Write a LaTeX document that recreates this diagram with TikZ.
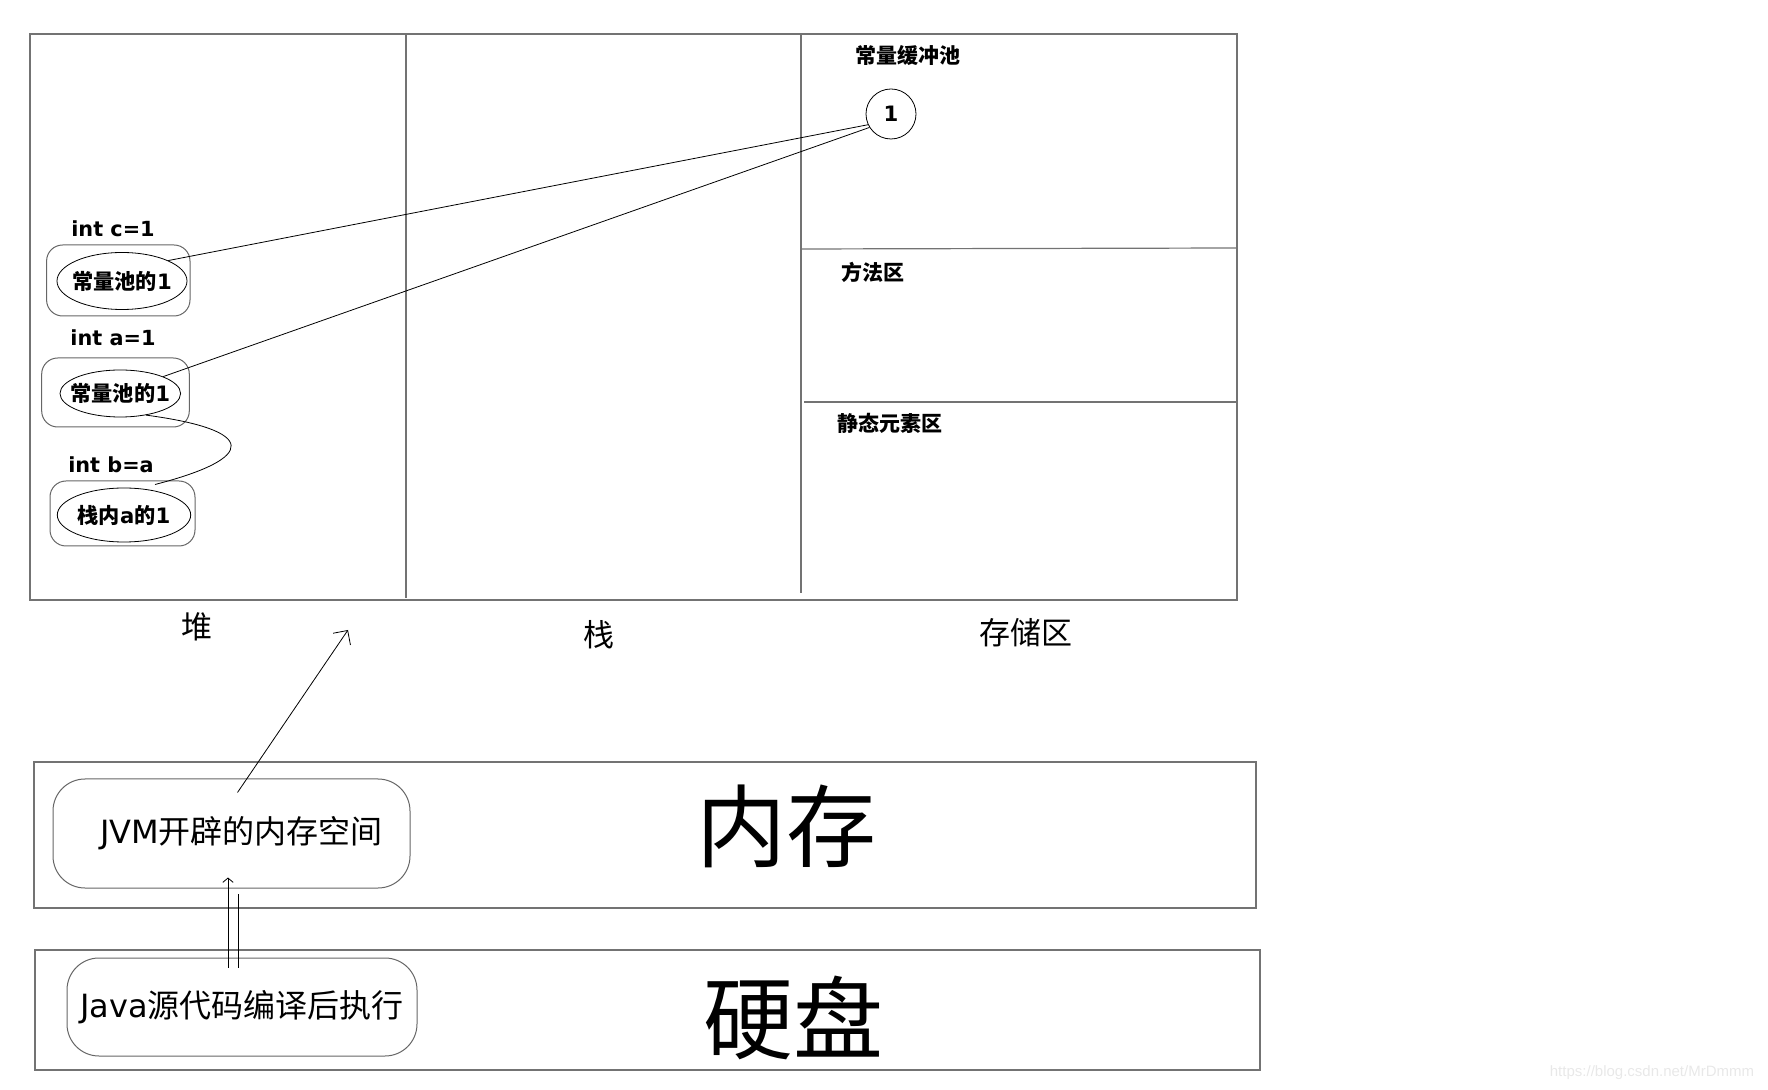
\documentclass[tikz,border=0pt]{standalone}
\usepackage{fontspec}
\setmainfont{DejaVu Sans}
\newfontfamily\cjk{Noto Sans CJK SC}
\newfontfamily\wmfont{Liberation Sans}
\usetikzlibrary{arrows.meta,calc,shapes.geometric}

\tikzset{
	frame/.style={draw=black!55, line width=0.6pt},
	slot/.style={draw=black!60, line width=0.5pt, rounded corners=8pt, inner sep=0pt},
	val/.style={draw, ellipse, line width=0.4pt, inner sep=0pt, font=\fontsize{10.6}{12}\selectfont\bfseries},
	varlbl/.style={inner sep=0pt, font=\fontsize{10.4}{12}\selectfont\bfseries},
	arealbl/.style={inner sep=0pt, font=\fontsize{10.5}{12}\selectfont\bfseries\cjk},
	partlbl/.style={inner sep=0pt, font=\fontsize{15.5}{18}\selectfont\cjk},
	biglbl/.style={inner sep=0pt, font=\fontsize{45}{50}\selectfont\cjk},
	stepbox/.style={draw=black!60, line width=0.5pt, rounded corners=16pt, inner sep=0pt, font=\fontsize{16}{19}\selectfont},
	link/.style={line width=0.4pt},
}

\begin{document}
\begin{tikzpicture}[x=0.5pt,y=0.5pt,yscale=-1,xscale=1]
	\useasboundingbox (0,0) rectangle (1768,1090);

	% JVM memory areas
	\draw [frame] (30,34) rectangle (1237,600);
	\draw [frame] (406,34) -- (406,598);
	\draw [frame] (801,34) -- (801,593);
	\draw [frame] (800,249) -- (1237,248);
	\draw [frame] (804,402) -- (1237,402);

	\draw (908,55) node [arealbl] (poollbl) {常量缓冲池};
	\draw (873,272) node [arealbl] (methodlbl) {方法区};
	\draw (890,423) node [arealbl] (staticlbl) {静态元素区};
	\draw (891,114) node [draw, circle, line width=0.4pt, minimum size=25pt, inner sep=0pt, font=\fontsize{10.6}{12}\selectfont\bfseries] (one) {1};

	% variables on the stack
	\draw (113,229) node [varlbl] (clbl) {int c=1};
	\draw (118.3,280.5) node [slot, minimum width=71.7pt, minimum height=35.5pt] (boxc) {};
	\draw (122,281) node [val, minimum width=65pt, minimum height=28.5pt] (c1) {\makebox[0pt]{{\cjk 常量池的}1}};

	\draw (113,338) node [varlbl] (albl) {int a=1};
	\draw (115.5,392.5) node [slot, minimum width=73.8pt, minimum height=34.5pt] (boxa) {};
	\draw (120.3,393.5) node [val, minimum width=60.3pt, minimum height=23.5pt] (a1) {\makebox[0pt]{{\cjk 常量池的}1}};

	\draw (111,465) node [varlbl] (blbl) {int b=a};
	\draw (122.5,513.5) node [slot, minimum width=72.5pt, minimum height=32.5pt] (boxb) {};
	\draw (124,515) node [val, minimum width=66.7pt, minimum height=27pt] (b1) {\makebox[0pt]{{\cjk 栈内}a{\cjk 的}1}};

	\draw [link] (one.205) -- (c1.north east);
	\draw [link] (one.212) -- (a1.north east);
	\draw [link] (a1.-40) .. controls (258,430) and (258,458) .. ($(boxb.north)+(32.5,4)$);

	\draw (197,627) node [partlbl] (heaplbl) {堆};
	\draw (599,635) node [partlbl] (stacklbl) {栈};
	\draw (1026,633) node [partlbl] (storelbl) {存储区};

	% memory and disk
	\draw [frame] (34,762) rectangle (1256,908);
	\draw [frame] (35,950) rectangle (1260,1070);

	\draw (231.5,833.5) node [stepbox, minimum width=178.5pt, minimum height=54.5pt] (jvm) {\hspace*{10pt}JVM{\cjk 开辟的内存空间}};
	\draw (242,1007) node [stepbox, minimum width=175pt, minimum height=49pt] (src) {\raisebox{3pt}{Java{\cjk 源代码编译后执行}}};

	\draw (786,826) node [biglbl] (memlbl) {内存};
	\draw (793,1018) node [biglbl] (disklbl) {硬盘};

	\coordinate (heaptip) at (348,630);
	\draw [link, -{Straight Barb[angle=90:7pt 1]}] ($(jvm.north)+(6,14)$) -- (heaptip);
	\draw [link, -{Straight Barb[angle=100:3pt 1]}] ($(src.north)+(-14,10)$) -- ($(jvm.south)+(-3.5,-11)$);
	\draw [link] ($(src.north)+(-4,10)$) -- ($(jvm.south)+(6.5,5)$);

	\draw (1652,1073) node [inner sep=0pt, text=black!9, font=\fontsize{7.5}{9}\selectfont\wmfont] (wm) {https://blog.csdn.net/MrDmmm};
\end{tikzpicture}
\end{document}
